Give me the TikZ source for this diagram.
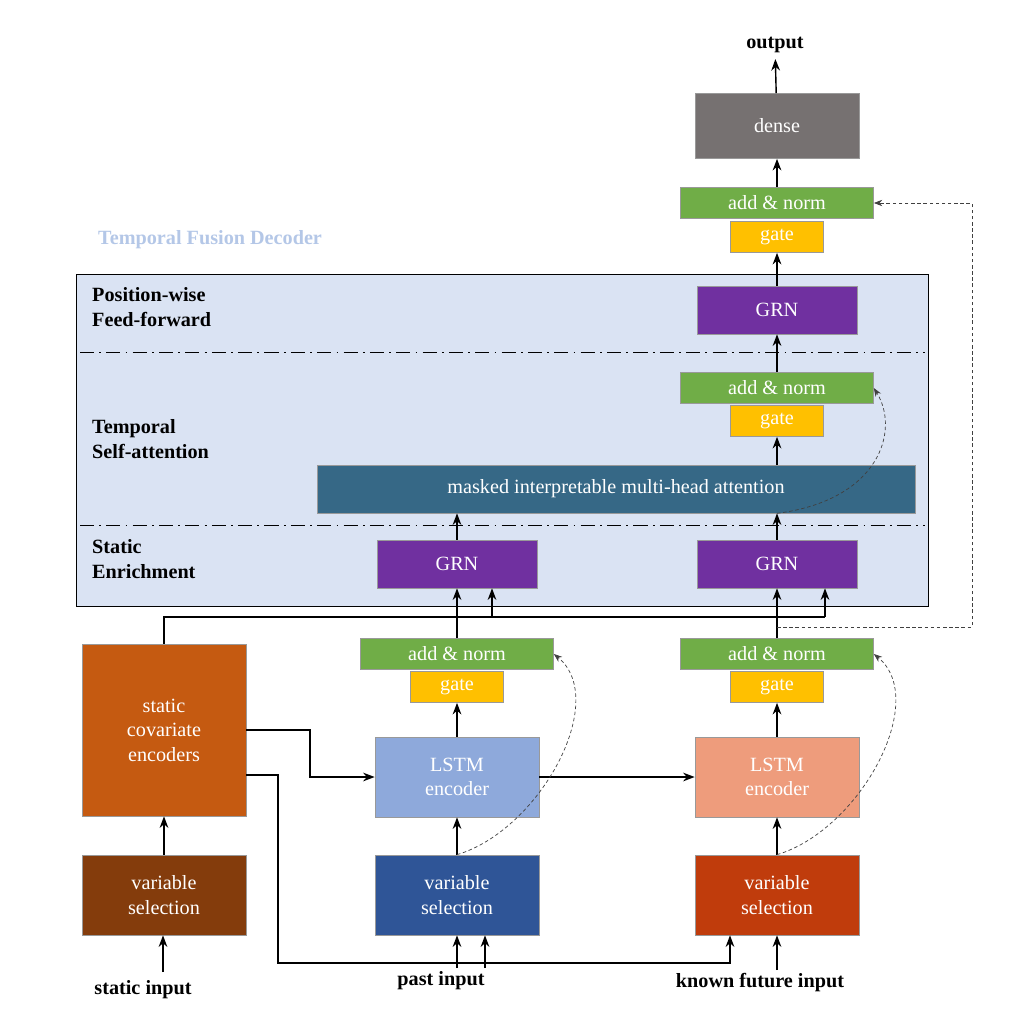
\documentclass[tikz,border=0pt]{standalone}
\usepackage{fontspec}
\setmainfont{Liberation Serif}
\usetikzlibrary{positioning,arrows.meta}
\definecolor{grnpurple}{RGB}{112,48,160}
\definecolor{addgreen}{RGB}{112,173,71}
\definecolor{gateyellow}{RGB}{255,192,0}
\definecolor{densegray}{RGB}{118,113,113}
\definecolor{panelblue}{RGB}{218,227,243}
\definecolor{titleblue}{RGB}{180,199,231}
\definecolor{attnteal}{RGB}{54,104,134}
\definecolor{covorange}{RGB}{197,90,17}
\definecolor{selbrown}{RGB}{132,60,12}
\definecolor{selblue}{RGB}{47,85,151}
\definecolor{selred}{RGB}{192,60,12}
\definecolor{lstmblue}{RGB}{142,169,219}
\definecolor{lstmsalmon}{RGB}{238,156,124}
\begin{document}
\begin{tikzpicture}
  [x=0.02cm,y=-0.02cm,>=Stealth,font=\fontsize{11.5}{14}\selectfont,
   basicbox/.style={draw=black!40,rectangle,inner sep=0pt,text=white,align=center},
   bigbox/.style={basicbox,minimum width=3.28cm,minimum height=1.6cm},
   grnbox/.style={basicbox,fill=grnpurple,minimum width=3.2cm,minimum height=0.96cm},
   addbox/.style={basicbox,fill=addgreen,minimum width=3.86cm,minimum height=0.62cm},
   gatebox/.style={basicbox,fill=gateyellow,minimum width=1.86cm,minimum height=0.62cm},
   label/.style={font=\fontsize{11.5}{14}\selectfont\bfseries,align=left,anchor=west},
   inlabel/.style={font=\fontsize{11.5}{14}\selectfont\bfseries},
   dotarrow/.style={->,dash pattern=on 2pt off 1.5pt,black!75},
   dashdot/.style={dash pattern=on 8pt off 3pt on 1pt off 3pt}]
  \useasboundingbox (0,0) rectangle (1020,1027);
  % panel
  \node (panel) at (502,440) [draw,fill=panelblue,minimum width=17.04cm,minimum height=6.64cm] {};
  \node (title) at (92,240) [label,text=titleblue] {Temporal Fusion Decoder};
  \draw [dashdot] (80,352) -- (925,352);
  \draw [dashdot] (80,525) -- (925,525);
  \node (lbffwd) at (86,307) [label] {Position-wise\\Feed-forward};
  \node (lbattn) at (86,439) [label] {Temporal\\Self-attention};
  \node (lbenrich) at (86,559) [label] {Static\\Enrichment};
  % top stack
  \node (output) at (775,45) [inlabel] {output};
  \node (dense) at (777,126) [basicbox,fill=densegray,minimum width=3.28cm,minimum height=1.3cm] {dense};
  \node (addtop) at (777,203) [addbox] {add \& norm};
  \node (gatetop) at (777,237) [gatebox] {gate};
  \node (grnffwd) at (777,310) [grnbox] {GRN};
  \node (addattn) at (777,388) [addbox] {add \& norm};
  \node (gateattn) at (777,421) [gatebox] {gate};
  \node (attn) at (616,489) [basicbox,fill=attnteal,minimum width=11.96cm,minimum height=0.96cm] {masked interpretable multi-head attention};
  \node (grnpast) at (457,564) [grnbox] {GRN};
  \node (grnfut) at (777,564) [grnbox] {GRN};
  % lower columns
  \node (addpast) at (457,654) [addbox] {add \& norm};
  \node (gatepast) at (457,687) [gatebox] {gate};
  \node (addfut) at (777,654) [addbox] {add \& norm};
  \node (gatefut) at (777,687) [gatebox] {gate};
  \node (lstmpast) at (457,777) [bigbox,fill=lstmblue] {LSTM\\encoder};
  \node (lstmfut) at (777,777) [bigbox,fill=lstmsalmon] {LSTM\\encoder};
  \node (covenc) at (164,730) [basicbox,fill=covorange,minimum width=3.28cm,minimum height=3.44cm] {static\\covariate\\encoders};
  \node (selstat) at (164,895) [bigbox,fill=selbrown] {variable\\selection};
  \node (selpast) at (457,895) [bigbox,fill=selblue] {variable\\selection};
  \node (selfut) at (777,895) [bigbox,fill=selred] {variable\\selection};
  \node (instat) at (143,990) [inlabel] {static input};
  \node (inpast) at (441,981) [inlabel] {past input};
  \node (infut) at (760,983) [inlabel] {known future input};
  \coordinate (bus) at (164,617);
  \coordinate (ctxout) at (246,730);
  \coordinate (futout) at (246,775);
  \coordinate (futbus) at (278,963);
  % main flow
  \draw [->,thick] (dense) -- (output);
  \draw [->,thick] (addtop) -- (dense);
  \draw [->,thick] (grnffwd) -- (gatetop);
  \draw [->,thick] (addattn) -- (grnffwd);
  \draw [->,thick] (attn.north -| addattn) -- (gateattn);
  \draw [->,thick] (grnpast) -- (attn.south -| grnpast);
  \draw [->,thick] (grnfut) -- (attn.south -| grnfut);
  \draw [->,thick] (addpast) -- (grnpast);
  \draw [->,thick] (addfut) -- (grnfut);
  \draw [->,thick] (lstmpast) -- (gatepast);
  \draw [->,thick] (lstmfut) -- (gatefut);
  \draw [->,thick] (selpast) -- (lstmpast);
  \draw [->,thick] (selfut) -- (lstmfut);
  \draw [->,thick] (selstat) -- (covenc);
  \draw [->,thick] (lstmpast) -- (lstmfut);
  \draw [->,thick] (163,972) -- (selstat.south -| 163,0);
  \draw [->,thick] (457,968) -- (selpast.south);
  \draw [->,thick] (485,968) -- (selpast.south -| 485,0);
  \draw [->,thick] (777,970) -- (selfut.south);
  % static context
  \draw [thick] (covenc.north) -- (bus) -- (825,617);
  \draw [->,thick] (492,617) -- (grnpast.south -| 492,0);
  \draw [->,thick] (825,617) -- (grnfut.south -| 825,0);
  \draw [->,thick] (ctxout) -- (310,730) |- (lstmpast.west);
  \draw [->,thick] (futout) -| (futbus) -| (selfut.south -| 730,0);
  % skip connections
  \draw [dotarrow] (selpast.north) .. controls (540,830) and (610,700) .. (addpast.east);
  \draw [dotarrow] (selfut.north) .. controls (860,830) and (930,700) .. (addfut.east);
  \draw [dotarrow] (attn.south -| grnfut) .. controls (880,500) and (900,430) .. (addattn.east);
  \draw [dotarrow] (777,627) -- (972,627) |- (addtop.east);
\end{tikzpicture}
\end{document}
